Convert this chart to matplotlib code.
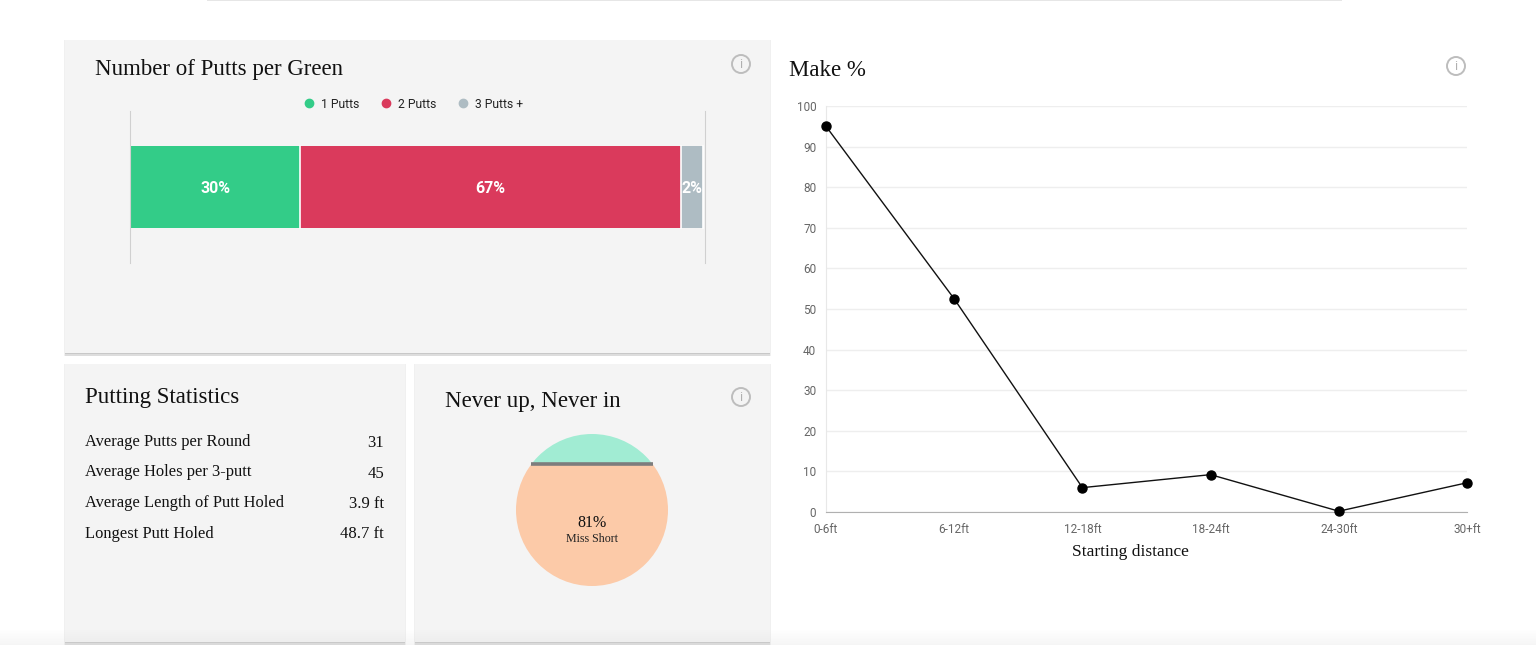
import numpy as np
import matplotlib
matplotlib.use('Agg')
import matplotlib.pyplot as plt
from matplotlib.lines import Line2D
from matplotlib.patches import Circle, Rectangle

W, H = 1536, 645
SLAB = 'Liberation Serif'
SANS = 'Roboto'

# putts per green
putt_labels = ['1 Putts', '2 Putts', '3 Putts +']
putt_shares = [29.7, 66.5, 3.8]
putt_text = ['30%', '67%', '2%']
putt_colors = ['#33cc88', '#da3a5c', '#aebcc3']

# stats table
stat_names = ['Average Putts per Round', 'Average Holes per 3-putt',
              'Average Length of Putt Holed', 'Longest Putt Holed']
stat_values = ['31', '45', '3.9 ft', '48.7 ft']

# never up, never in
miss_short = 81

# make %
distances = ['0-6ft', '6-12ft', '12-18ft', '18-24ft', '24-30ft', '30+ft']
make_pct = [95, 52.5, 6, 9.2, 0.2, 7.2]


def px_axes(fig, x0, y0, x1, y1):
    # axes from pixel box, y counted from the top
    return fig.add_axes([x0/W, 1 - y1/H, (x1-x0)/W, (y1-y0)/H])


fig = plt.figure(figsize=(W/100, H/100), dpi=100, facecolor='white')

bg = fig.add_axes([0, 0, 1, 1])
bg.set_xlim(0, W)
bg.set_ylim(H, 0)
bg.axis('off')


def card(x0, y0, x1, y1):
    bg.add_patch(Rectangle((x0-1, y0), x1-x0+2, y1-y0+2, fc='#f0f0f0', ec='none'))
    bg.add_patch(Rectangle((x0, y1), x1-x0, 1.5, fc='#dddddd', ec='none'))
    bg.add_patch(Rectangle((x0, y1-1.5), x1-x0, 1.5, fc='#c8c8c8', ec='none'))
    bg.add_patch(Rectangle((x0, y0), x1-x0, y1-y0-1.5, fc='#f4f4f4', ec='none'))


def info(x, y):
    bg.add_patch(Circle((x, y), 9, fc='none', ec='#bdbdbd', lw=1.4))
    bg.text(x, y+0.5, 'i', ha='center', va='center', color='#b0b0b0',
            fontsize=9, family=SANS)


def title(x, y, s):
    bg.text(x, y, s, ha='left', va='center', color='#111111', fontsize=16.5, family=SLAB)


bg.add_patch(Rectangle((207, 0), 1135, 1, fc='#e6e6e6', ec='none'))
card(65, 40, 770, 354)
card(65, 364, 405, 643)
card(415, 364, 770, 643)

title(95, 69, 'Number of Putts per Green')
title(85, 398, 'Putting Statistics')
title(445, 402, 'Never up, Never in')
title(789, 71, 'Make %')
info(741, 64)
info(741, 397)
info(1456, 66)

for i, (name, val) in enumerate(zip(stat_names, stat_values)):
    y = 442 + i*30.5
    bg.text(85, y, name, ha='left', va='center', color='#111111', fontsize=11.9, family=SLAB)
    bg.text(384, y+1, val, ha='right', va='center', color='#111111', fontsize=12, family=SLAB)

# stacked bar
ax = px_axes(fig, 130, 111, 705, 263)
ax.patch.set_alpha(0)
left = 0
for share, txt, c in zip(putt_shares, putt_text, putt_colors):
    ax.barh(0, share, left=left, height=0.54, color=c, edgecolor='none')
    ax.text(left + share/2, -0.012, txt, ha='center', va='center', color='white',
            fontsize=11.5, fontweight='bold', family=SANS)
    left += share
    ax.axvline(left, ymin=0.23, ymax=0.77, color='white', lw=1.2)
ax.set_xlim(0, 100.35)
ax.set_ylim(-0.5, 0.5)
ax.set_xticks([])
ax.set_yticks([])
for s in ['top', 'bottom']:
    ax.spines[s].set_visible(False)
for s in ['left', 'right']:
    ax.spines[s].set_color('#d0d0d0')
    ax.spines[s].set_linewidth(0.8)
handles = [Line2D([], [], ls='none', marker='o', ms=6, color=c, label=l)
           for c, l in zip(putt_colors, putt_labels)]
ax.legend(handles=handles, ncol=3, loc='center', bbox_to_anchor=(0.4875, 1.045), frameon=False,
          prop={'family': SANS, 'size': 8.7}, handletextpad=0.0, columnspacing=1.2,
          labelcolor='#222222')

# fill gauge
gauge = px_axes(fig, 516, 434, 668, 586)
gauge.set_xlim(-50, 50)
gauge.set_ylim(0, 100)
gauge.axis('off')
disc = Circle((0, 50), 50, transform=gauge.transData)
b1 = gauge.bar(0, miss_short, width=100, color='#fccaa8', edgecolor='none')
b2 = gauge.bar(0, 100-miss_short, bottom=miss_short, width=100, color='#a1ecd3', edgecolor='none')
for p in list(b1) + list(b2):
    p.set_clip_path(disc)
half = np.sqrt(50**2 - (miss_short-50)**2)
gauge.plot([-half-1, half+1], [miss_short-0.5, miss_short-0.5], color='#7d7d7d', lw=2.6,
           solid_capstyle='butt')
gauge.text(0, 41.3, f'{miss_short}%', ha='center', va='center', color='#111111',
           fontsize=11.5, family=SLAB)
gauge.text(0, 30.8, 'Miss Short', ha='center', va='center', color='#222222',
           fontsize=8.6, family=SLAB)

# make % line
lx = px_axes(fig, 826, 106, 1467, 512)
lx.plot(range(len(distances)), make_pct, color='#111111', lw=1, marker='o', ms=6.5,
        mfc='black', mec='black', clip_on=False, zorder=5)
lx.set_xlim(0, len(distances)-1)
lx.set_ylim(0, 100)
lx.set_yticks(np.arange(0, 101, 10))
lx.set_xticks(range(len(distances)))
lx.set_xticklabels(distances)
lx.grid(axis='y', color='#eeeeee', lw=1)
lx.set_axisbelow(True)
for s in ['top', 'right']:
    lx.spines[s].set_visible(False)
lx.spines['left'].set_color('#e8e8e8')
lx.spines['bottom'].set_color('#b0b0b0')
lx.tick_params(axis='y', length=0, pad=7, labelcolor='#666666', labelsize=8.5)
lx.tick_params(axis='x', length=0, pad=8, labelcolor='#666666', labelsize=8.5)
for t in lx.get_xticklabels() + lx.get_yticklabels():
    t.set_family(SANS)
lx.set_xlabel('Starting distance', fontsize=12.5, family=SLAB, color='#111111')
lx.xaxis.set_label_coords(0.475, -0.08)

# page fades out at the bottom edge
fade = fig.add_axes([0, 0, 1, 16/H], zorder=10)
fade.axis('off')
ramp = np.zeros((16, 2, 4))
ramp[..., :3] = 0.82
ramp[..., 3] = np.linspace(0, 0.2, 16)[:, None]
fade.imshow(ramp, aspect='auto', interpolation='bilinear')

fig.savefig('out.png', dpi=100)
